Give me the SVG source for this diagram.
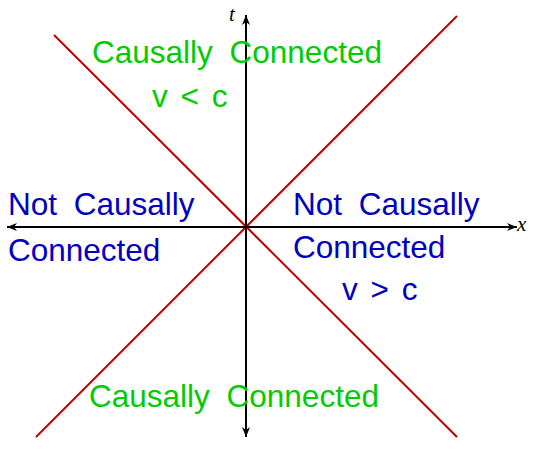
<svg xmlns="http://www.w3.org/2000/svg" width="541" height="454" viewBox="0 0 541 454">
<style>
.ax{stroke:#000;stroke-width:2;fill:none}
.lc{stroke:#c00000;stroke-width:2;fill:none}
.g{fill:#00cc00;font-family:"Liberation Sans",Arial,sans-serif;font-size:31.5px;word-spacing:8px}
.b{fill:#0000c0;font-family:"Liberation Sans",Arial,sans-serif;font-size:31.5px;word-spacing:8px}
.s{word-spacing:4px}
.al{fill:#000;font-family:"Liberation Serif","Times New Roman",serif;font-style:italic;font-size:21px}
</style>
<defs>
<marker id="ah" markerUnits="userSpaceOnUse" markerWidth="12" markerHeight="10" refX="10" refY="4.5" orient="auto-start-reverse" viewBox="0 0 12 10">
<path d="M0,0.5 L10,4.5 L0,8.5 L3,4.5 z" fill="#000"/>
</marker>
</defs>
<g id="connectors">
<path class="lc" d="M54,35 L457,437"/>
<path class="lc" d="M36,437 L457,16"/>
<path class="ax" d="M246,437 L246,15" marker-start="url(#ah)" marker-end="url(#ah)"/>
<path class="ax" d="M7,227 L517,227" marker-start="url(#ah)" marker-end="url(#ah)"/>
</g>
<g id="axis-t"><text class="al" x="229" y="21">t</text></g>
<g id="axis-x"><text class="al" x="517" y="231">x</text></g>
<g id="top-region">
<text class="g" x="92" y="63">Causally Connected</text>
<text class="g s" x="152" y="107">v &lt; c</text>
</g>
<g id="bottom-region">
<text class="g" x="89" y="407">Causally Connected</text>
</g>
<g id="left-region">
<text class="b" x="8" y="215">Not Causally</text>
<text class="b" x="8" y="261">Connected</text>
</g>
<g id="right-region">
<text class="b" x="293" y="215">Not Causally</text>
<text class="b" x="293" y="258">Connected</text>
<text class="b s" x="342" y="300">v &gt; c</text>
</g>
</svg>
